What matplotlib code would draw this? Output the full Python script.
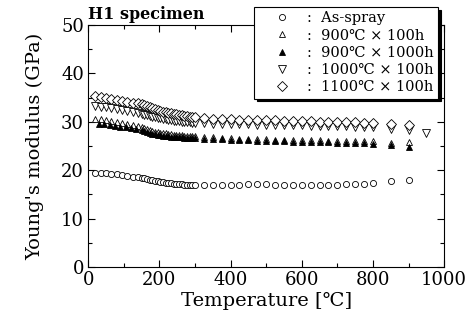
import matplotlib.pyplot as plt
from matplotlib.ticker import MultipleLocator

plt.rcParams['font.family'] = ['DejaVu Serif']

# Measurement temperatures (deg C)
temp = [20, 35, 50, 65, 80, 95, 110, 125, 140,
        150, 158, 165, 173, 180, 188, 195, 203, 210, 218, 225,
        233, 240, 248, 255, 263, 270, 278, 285, 293, 300,
        325, 350, 375, 400, 425, 450, 475, 500, 525, 550,
        575, 600, 625, 650, 675, 700, 725, 750, 775, 800,
        850, 900]
temp_b = [30, 45, 60, 75, 90, 105, 120, 135,
          150, 158, 165, 173, 180, 188, 195, 203, 210, 218, 225,
          233, 240, 248, 255, 263, 270, 278, 285, 293, 300,
          325, 350, 375, 400, 425, 450, 475, 500, 525, 550,
          575, 600, 625, 650, 675, 700, 725, 750, 775, 800,
          850, 900]
temp_c = temp + [950]

# Young's modulus (GPa)
e_as_spray = [19.5, 19.5, 19.4, 19.3, 19.2, 19.0, 18.9, 18.7, 18.5,
              18.4, 18.3, 18.2, 18.0, 17.9, 17.8, 17.7, 17.6, 17.5, 17.4, 17.3,
              17.3, 17.2, 17.2, 17.1, 17.1, 17.0, 17.0, 17.0, 16.9, 16.9,
              16.9, 17.0, 17.0, 17.0, 17.0, 17.1, 17.1, 17.1, 17.0, 17.0,
              16.9, 16.9, 16.9, 17.0, 17.0, 17.0, 17.1, 17.1, 17.2, 17.3,
              17.7, 18.0]
e_900_100 = [30.6, 30.5, 30.3, 30.1, 29.9, 29.7, 29.5, 29.3, 29.1,
             29.0, 28.8, 28.6, 28.4, 28.2, 28.0, 27.9, 27.8, 27.7, 27.6, 27.5,
             27.4, 27.3, 27.3, 27.2, 27.2, 27.1, 27.1, 27.0, 27.0, 27.0,
             26.9, 26.8, 26.7, 26.6, 26.5, 26.5, 26.4, 26.4, 26.3, 26.3,
             26.3, 26.2, 26.2, 26.2, 26.1, 26.1, 26.0, 26.0, 26.0, 26.0,
             25.7, 25.8]
e_900_1000 = [29.6, 29.5, 29.4, 29.2, 29.0, 28.9, 28.7, 28.5,
              28.3, 28.1, 27.9, 27.7, 27.5, 27.4, 27.3, 27.2, 27.1, 27.0, 27.0,
              26.9, 26.9, 26.8, 26.8, 26.8, 26.7, 26.7, 26.7, 26.6, 26.6,
              26.5, 26.5, 26.4, 26.3, 26.2, 26.2, 26.1, 26.0, 26.0, 26.0,
              25.9, 25.9, 25.8, 25.8, 25.8, 25.7, 25.7, 25.6, 25.6, 25.5,
              25.3, 24.8]
e_1000_100 = [33.2, 33.1, 33.0, 32.8, 32.6, 32.4, 32.2, 32.0, 31.8,
              31.7, 31.5, 31.4, 31.2, 31.1, 31.0, 30.8, 30.7, 30.6, 30.5, 30.4,
              30.3, 30.2, 30.2, 30.1, 30.0, 30.0, 29.9, 29.9, 29.8, 29.8,
              29.7, 29.6, 29.6, 29.5, 29.5, 29.5, 29.4, 29.4, 29.4, 29.3,
              29.3, 29.3, 29.2, 29.2, 29.2, 29.1, 29.1, 29.0, 29.0, 29.0,
              28.6, 28.4, 27.7]
e_1100_100 = [35.3, 35.2, 35.0, 34.8, 34.6, 34.4, 34.2, 34.0, 33.8,
              33.6, 33.4, 33.2, 33.0, 32.8, 32.6, 32.4, 32.3, 32.1, 32.0, 31.9,
              31.8, 31.7, 31.6, 31.5, 31.4, 31.3, 31.2, 31.1, 31.0, 31.0,
              30.8, 30.6, 30.5, 30.5, 30.4, 30.4, 30.3, 30.3, 30.3, 30.2,
              30.2, 30.1, 30.1, 30.0, 30.0, 30.0, 29.9, 29.9, 29.8, 29.7,
              29.5, 29.3]

fig = plt.figure(figsize=(4.74, 3.26), dpi=100)
ax = fig.add_axes([0.186, 0.181, 0.751, 0.742])

kw = dict(linestyle='none', markeredgecolor='black', markeredgewidth=0.6)
ax.plot(temp, e_as_spray, 'o', markersize=4.4, markerfacecolor='white',
        label=':  As-spray', **kw)
ax.plot(temp, e_900_100, '^', markersize=4.8, markerfacecolor='white',
        label=':  900℃ × 100h', **kw)
ax.plot(temp_b, e_900_1000, '^', markersize=4.8, markerfacecolor='black',
        label=':  900℃ × 1000h', **kw)
ax.plot(temp_c, e_1000_100, 'v', markersize=5.2, markerfacecolor='white',
        label=':  1000℃ × 100h', **kw)
ax.plot(temp, e_1100_100, 'D', markersize=5, markerfacecolor='white',
        label=':  1100℃ × 100h', **kw)

ax.set_xlim(0, 1000)
ax.set_ylim(0, 50)
ax.xaxis.set_major_locator(MultipleLocator(200))
ax.xaxis.set_minor_locator(MultipleLocator(100))
ax.yaxis.set_major_locator(MultipleLocator(10))
ax.yaxis.set_minor_locator(MultipleLocator(5))
ax.tick_params(which='both', direction='in', top=True, right=True,
               labelsize=13, width=0.8)
ax.tick_params(which='major', length=5, pad=3)
ax.tick_params(which='minor', length=3)
for s in ax.spines.values():
    s.set_linewidth(0.8)

ax.set_xlabel('Temperature [℃]', fontsize=14, labelpad=2)
ax.set_ylabel("Young's modulus (GPa)", fontsize=14, labelpad=12)
ax.text(0.0, 1.01, 'H1 specimen', transform=ax.transAxes, fontsize=11.5,
        fontweight='bold', ha='left', va='bottom')

leg = ax.legend(loc='upper right', bbox_to_anchor=(0.982, 1.075),
                fontsize=10.5, fancybox=False, framealpha=1,
                edgecolor='black', shadow={'color': 'black', 'alpha': 1},
                handletextpad=0.1, borderpad=0.3, labelspacing=0.22,
                handlelength=3.2, borderaxespad=0)
leg.get_frame().set_linewidth(0.8)
leg.set_zorder(5)

fig.savefig('out.png', dpi=100)
